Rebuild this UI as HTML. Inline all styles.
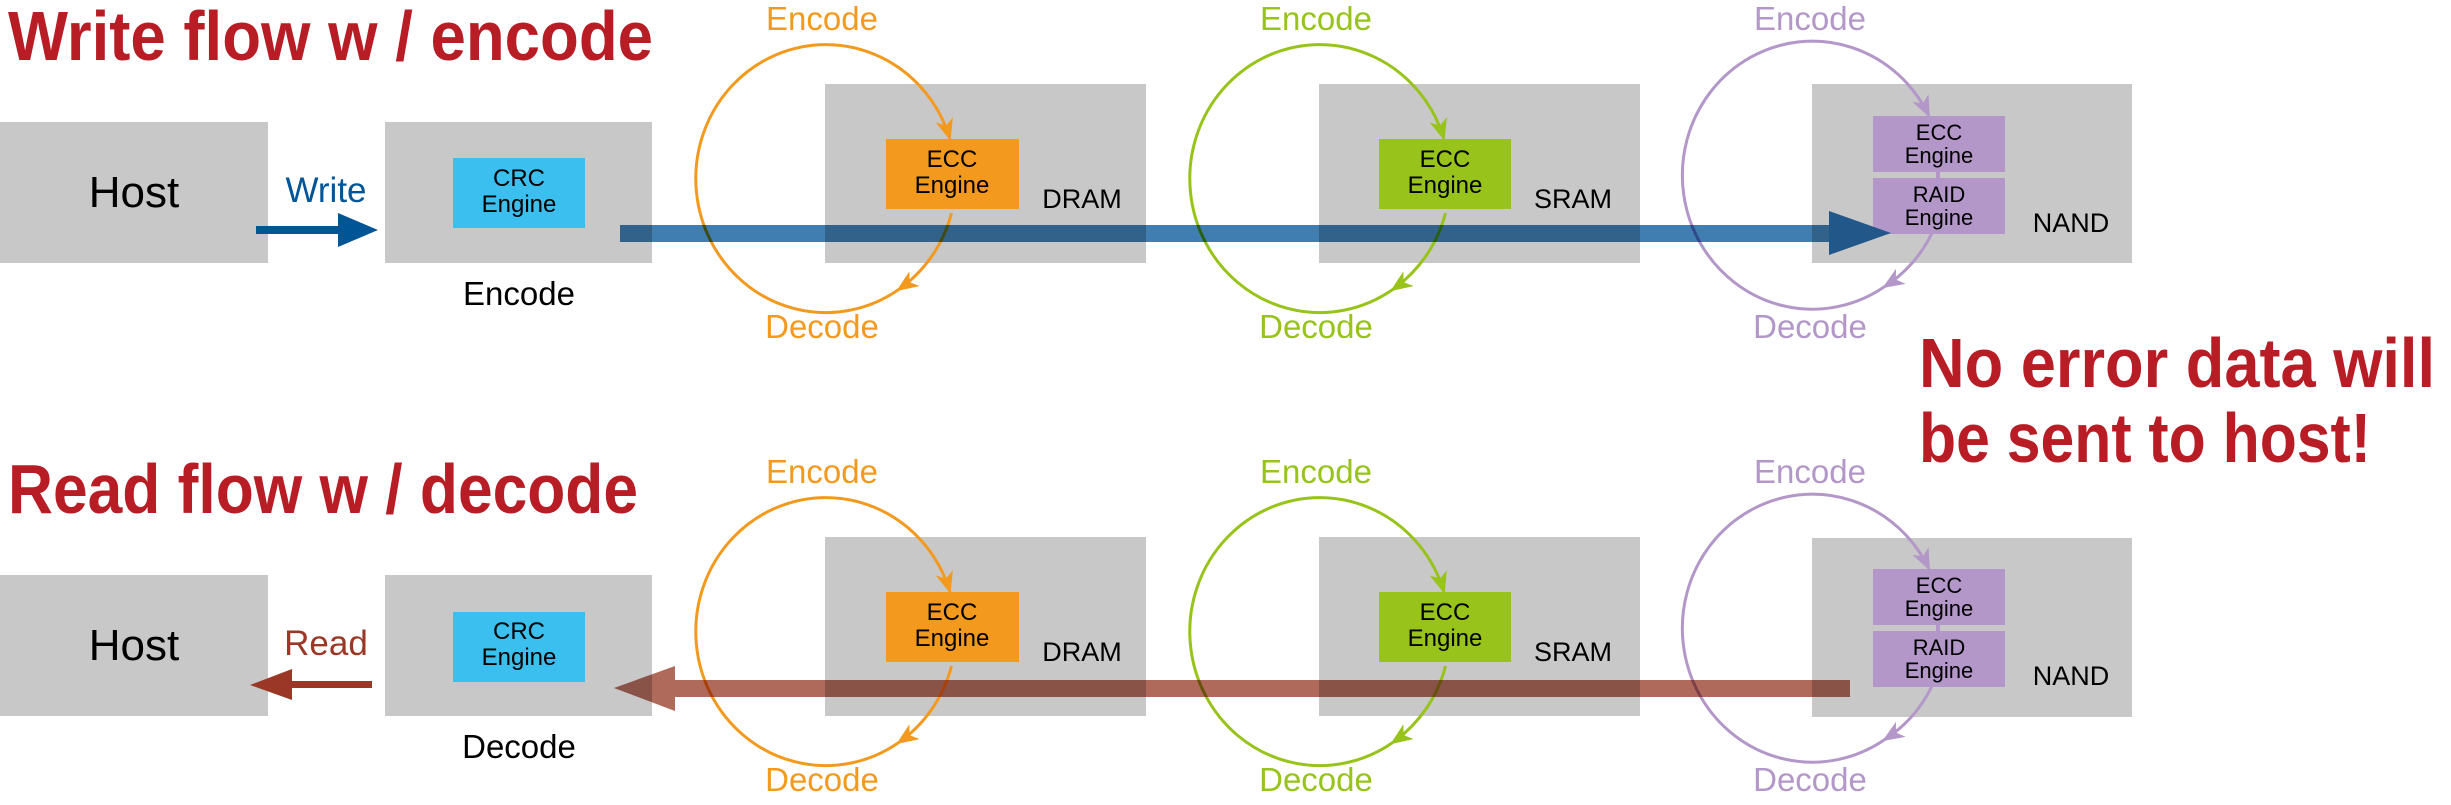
<!DOCTYPE html>
<html><head><meta charset="utf-8"><style>
html,body{margin:0;padding:0;background:#fff;}
svg{display:block;}
text{font-family:"Liberation Sans",sans-serif;}
</style></head><body>
<svg width="2451" height="805" viewBox="0 0 2451 805" xmlns="http://www.w3.org/2000/svg">
<defs>
<marker id="mo" markerWidth="22" markerHeight="18" refX="20" refY="9" orient="auto" markerUnits="userSpaceOnUse"><path d="M0,0 L22,9 L0,18 L6,9 Z" fill="#f39a1e"/></marker>
<marker id="mg" markerWidth="22" markerHeight="18" refX="20" refY="9" orient="auto" markerUnits="userSpaceOnUse"><path d="M0,0 L22,9 L0,18 L6,9 Z" fill="#97c31a"/></marker>
<marker id="mp" markerWidth="22" markerHeight="18" refX="20" refY="9" orient="auto" markerUnits="userSpaceOnUse"><path d="M0,0 L22,9 L0,18 L6,9 Z" fill="#b397c8"/></marker>
</defs>

<!-- Titles -->
<text x="8" y="60" font-size="70" font-weight="bold" fill="#b81c25" textLength="645" lengthAdjust="spacingAndGlyphs">Write flow w / encode</text>
<text x="8" y="513" font-size="70" font-weight="bold" fill="#b81c25" textLength="630" lengthAdjust="spacingAndGlyphs">Read flow w / decode</text>
<text x="1919" y="387" font-size="70" font-weight="bold" fill="#b81c25" textLength="516" lengthAdjust="spacingAndGlyphs">No error data will</text>
<text x="1919" y="462" font-size="70" font-weight="bold" fill="#b81c25" textLength="452" lengthAdjust="spacingAndGlyphs">be sent to host!</text>

<g id="row1">
<!-- grey boxes -->
<rect x="0" y="122" width="268" height="141" fill="#c8c8c8"/>
<rect x="385" y="122" width="267" height="141" fill="#c8c8c8"/>
<rect x="825" y="84" width="321" height="179" fill="#c8c8c8"/>
<rect x="1319" y="84" width="321" height="179" fill="#c8c8c8"/>
<rect x="1812" y="84" width="320" height="179" fill="#c8c8c8"/>
<text x="134" y="207" font-size="44" text-anchor="middle">Host</text>
<text x="326" y="202" font-size="35" fill="#005596" text-anchor="middle">Write</text>
<path d="M256,226 L338,226 L338,213 L378,230 L338,247 L338,234 L256,234 Z" fill="#005596"/>
<rect x="453" y="158" width="132" height="70" fill="#3abfef"/>
<text x="519" y="186" font-size="24" text-anchor="middle">CRC</text>
<text x="519" y="212" font-size="24" text-anchor="middle">Engine</text>
<text x="519" y="305" font-size="33" text-anchor="middle">Encode</text>

<!-- circles -->
<path d="M951.5,213 A130 134 0 0 1 898,290" fill="none" stroke="#f39a1e" stroke-width="3" marker-end="url(#mo)"/>
<path d="M898,290 A130 134 0 1 1 950,139" fill="none" stroke="#f39a1e" stroke-width="3" marker-end="url(#mo)"/>
<path d="M1445.5,213 A130 134 0 0 1 1392,290" fill="none" stroke="#97c31a" stroke-width="3" marker-end="url(#mg)"/>
<path d="M1392,290 A130 134 0 1 1 1444,139" fill="none" stroke="#97c31a" stroke-width="3" marker-end="url(#mg)"/>
<path d="M1932,233 A130 134 0 0 1 1884,287" fill="none" stroke="#b397c8" stroke-width="3" marker-end="url(#mp)"/>
<path d="M1884,287 A130 134 0 1 1 1929,116" fill="none" stroke="#b397c8" stroke-width="3" marker-end="url(#mp)"/>

<text x="822" y="30" font-size="33" fill="#f39a1e" text-anchor="middle">Encode</text>
<text x="822" y="338" font-size="33" fill="#f39a1e" text-anchor="middle">Decode</text>
<text x="1316" y="30" font-size="33" fill="#97c31a" text-anchor="middle">Encode</text>
<text x="1316" y="338" font-size="33" fill="#97c31a" text-anchor="middle">Decode</text>
<text x="1810" y="30" font-size="33" fill="#b397c8" text-anchor="middle">Encode</text>
<text x="1810" y="338" font-size="33" fill="#b397c8" text-anchor="middle">Decode</text>

<rect x="886" y="139" width="133" height="70" fill="#f39a1e"/>
<text x="952" y="167" font-size="24" text-anchor="middle">ECC</text>
<text x="952" y="193" font-size="24" text-anchor="middle">Engine</text>
<text x="1082" y="208" font-size="27" text-anchor="middle">DRAM</text>
<rect x="1379" y="139" width="132" height="70" fill="#97c31a"/>
<text x="1445" y="167" font-size="24" text-anchor="middle">ECC</text>
<text x="1445" y="193" font-size="24" text-anchor="middle">Engine</text>
<text x="1573" y="208" font-size="27" text-anchor="middle">SRAM</text>
<rect x="1936" y="160" width="4" height="25" fill="#b397c8"/>
<rect x="1873" y="116" width="132" height="56" fill="#b397c8"/>
<rect x="1873" y="178" width="132" height="56" fill="#b397c8"/>
<text x="1939" y="140" font-size="22" text-anchor="middle">ECC</text>
<text x="1939" y="163" font-size="22" text-anchor="middle">Engine</text>
<text x="1939" y="202" font-size="22" text-anchor="middle">RAID</text>
<text x="1939" y="225" font-size="22" text-anchor="middle">Engine</text>
<text x="2071" y="232" font-size="27" text-anchor="middle">NAND</text>

<rect x="620" y="225" width="1216" height="17" fill="#407db0" style="mix-blend-mode:multiply"/>
<path d="M1829,211 L1891,233 L1829,255 Z" fill="#22578a"/>
</g>

<g id="row2">
<rect x="0" y="575" width="268" height="141" fill="#c8c8c8"/>
<rect x="385" y="575" width="267" height="141" fill="#c8c8c8"/>
<rect x="825" y="537" width="321" height="179" fill="#c8c8c8"/>
<rect x="1319" y="537" width="321" height="179" fill="#c8c8c8"/>
<rect x="1812" y="538" width="320" height="179" fill="#c8c8c8"/>
<text x="134" y="660" font-size="44" text-anchor="middle">Host</text>
<text x="326" y="655" font-size="35" fill="#9a3726" text-anchor="middle">Read</text>
<path d="M372,681 L292,681 L292,669 L250,685 L292,700 L292,688 L372,688 Z" fill="#9a3726"/>
<rect x="453" y="612" width="132" height="70" fill="#3abfef"/>
<text x="519" y="639" font-size="24" text-anchor="middle">CRC</text>
<text x="519" y="665" font-size="24" text-anchor="middle">Engine</text>
<text x="519" y="758" font-size="33" text-anchor="middle">Decode</text>

<path d="M951.5,666 A130 134 0 0 1 898,743" fill="none" stroke="#f39a1e" stroke-width="3" marker-end="url(#mo)"/>
<path d="M898,743 A130 134 0 1 1 950,592" fill="none" stroke="#f39a1e" stroke-width="3" marker-end="url(#mo)"/>
<path d="M1445.5,666 A130 134 0 0 1 1392,743" fill="none" stroke="#97c31a" stroke-width="3" marker-end="url(#mg)"/>
<path d="M1392,743 A130 134 0 1 1 1444,592" fill="none" stroke="#97c31a" stroke-width="3" marker-end="url(#mg)"/>
<path d="M1932,686 A130 134 0 0 1 1884,740" fill="none" stroke="#b397c8" stroke-width="3" marker-end="url(#mp)"/>
<path d="M1884,740 A130 134 0 1 1 1929,569" fill="none" stroke="#b397c8" stroke-width="3" marker-end="url(#mp)"/>

<text x="822" y="483" font-size="33" fill="#f39a1e" text-anchor="middle">Encode</text>
<text x="822" y="791" font-size="33" fill="#f39a1e" text-anchor="middle">Decode</text>
<text x="1316" y="483" font-size="33" fill="#97c31a" text-anchor="middle">Encode</text>
<text x="1316" y="791" font-size="33" fill="#97c31a" text-anchor="middle">Decode</text>
<text x="1810" y="483" font-size="33" fill="#b397c8" text-anchor="middle">Encode</text>
<text x="1810" y="791" font-size="33" fill="#b397c8" text-anchor="middle">Decode</text>

<rect x="886" y="592" width="133" height="70" fill="#f39a1e"/>
<text x="952" y="620" font-size="24" text-anchor="middle">ECC</text>
<text x="952" y="646" font-size="24" text-anchor="middle">Engine</text>
<text x="1082" y="661" font-size="27" text-anchor="middle">DRAM</text>
<rect x="1379" y="592" width="132" height="70" fill="#97c31a"/>
<text x="1445" y="620" font-size="24" text-anchor="middle">ECC</text>
<text x="1445" y="646" font-size="24" text-anchor="middle">Engine</text>
<text x="1573" y="661" font-size="27" text-anchor="middle">SRAM</text>
<rect x="1936" y="613" width="4" height="25" fill="#b397c8"/>
<rect x="1873" y="569" width="132" height="56" fill="#b397c8"/>
<rect x="1873" y="631" width="132" height="56" fill="#b397c8"/>
<text x="1939" y="593" font-size="22" text-anchor="middle">ECC</text>
<text x="1939" y="616" font-size="22" text-anchor="middle">Engine</text>
<text x="1939" y="655" font-size="22" text-anchor="middle">RAID</text>
<text x="1939" y="678" font-size="22" text-anchor="middle">Engine</text>
<text x="2071" y="685" font-size="27" text-anchor="middle">NAND</text>

<path d="M1850,680 L675,680 L675,666 L614,688 L675,711 L675,697 L1850,697 Z" fill="#b06a5c" style="mix-blend-mode:multiply"/>
</g>
</svg>
</body></html>
